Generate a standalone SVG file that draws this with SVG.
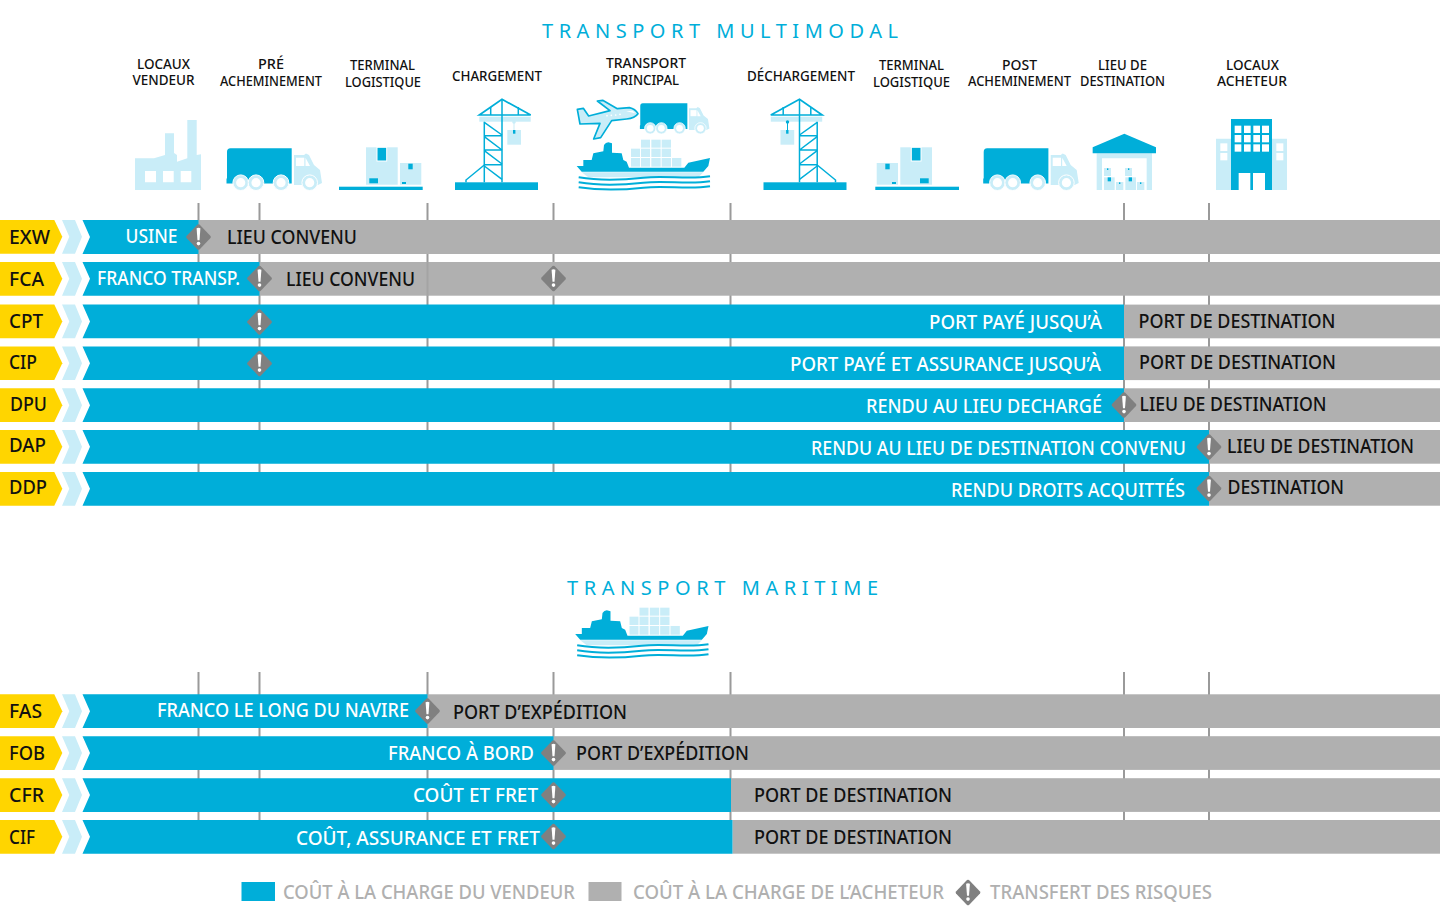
<svg xmlns="http://www.w3.org/2000/svg" xmlns:xlink="http://www.w3.org/1999/xlink" width="1440" height="906" viewBox="0 0 1440 906">
<style>
text{font-family:"Noto Sans","Open Sans","Liberation Sans",sans-serif}
.b{fill:#00aed9}.l{fill:#c9edf8}.y{fill:#ffd500}.g{fill:#b0b0b0}.wf{fill:#fff}
.title{font-size:20px;fill:#00aed9}
.hd{font-size:14px;fill:#111;font-weight:500}
.k{font-size:20px;fill:#111;font-weight:500}
.w{font-size:20px;fill:#fff;font-weight:500}
.code{font-size:20px;fill:#111;font-weight:500}
.lg{font-size:19.5px;fill:#b0b0b0;font-weight:500}
.tick{stroke:#9a9a9a;stroke-width:2;fill:none}
.st{stroke:#00aed9;fill:none}
</style>
<defs>
<g id="chev">
<polygon class="y" points="0,0 54.3,0 62.3,16.85 54.3,33.7 0,33.7"/>
<polygon class="l" points="62,0 75,0 82,16.85 75,33.7 62,33.7 69.3,16.85"/>
</g>
<g id="risk">
<path d="M-1,-12.4 Q0,-13.2 1,-12.4 L12,-0.9 Q12.8,0 12,0.9 L1,12.4 Q0,13.2 -1,12.4 L-12,0.9 Q-12.8,0 -12,-0.9 Z" fill="#808080"/>
<path d="M-1.9,-8.8 Q0,-9.8 1.9,-8.8 L1,3.2 L-1,3.2 Z" fill="#fff"/>
<circle cx="0" cy="6.6" r="1.8" fill="#fff"/>
</g>
<g id="truck">
<path class="b" d="M230.5,148.3 H291.7 V183.5 H226.5 V179 L227,178 V152 Q227,148.3 230.5,148.3 Z"/>
<path class="l" d="M294,155 H304 L306,153.5 L309,155 L314,165 L320,170 L322,183 L318,185 H294 Z"/>
<rect class="wf" x="296" y="157.7" width="8.3" height="8.3"/>
<polygon class="wf" points="305.5,157.7 310,166 305.5,166"/>
<g class="l" stroke="#fff" stroke-width="1">
<circle cx="240.7" cy="182.7" r="7.8"/><circle cx="256" cy="182.7" r="7.8"/><circle cx="281" cy="182.7" r="7.8"/><circle cx="309.7" cy="182.7" r="7.8"/>
</g>
<g class="wf">
<circle cx="240.7" cy="182.7" r="4.6"/><circle cx="256" cy="182.7" r="4.6"/><circle cx="281" cy="182.7" r="4.6"/><circle cx="309.7" cy="182.7" r="4.6"/>
</g>
</g>
<g id="boxes">
<rect class="b" x="339" y="186.7" width="83.7" height="3.3"/>
<rect class="l" x="366" y="147.3" width="31.7" height="37.4"/>
<rect class="b" x="377" y="147.3" width="9.7" height="13.7" stroke="#fff" stroke-width="1"/>
<rect class="b" x="369.3" y="178.3" width="8.7" height="5"/>
<rect class="l" x="400" y="163" width="21.3" height="21.7"/>
<rect class="b" x="408.3" y="163.7" width="4.4" height="5.6"/>
<rect class="b" x="402" y="182" width="4" height="2"/>
</g>
<g id="crane">
<rect class="b" x="455" y="182.3" width="83" height="7.7"/>
<rect class="l" x="479.3" y="116.7" width="51.4" height="5"/>
<g class="st" stroke-width="1.5">
<path d="M484.3,121.7 V182.3 M502,99.3 V182.3"/>
<path d="M479.3,115 L502,99.3 L530.7,115 Z" stroke-width="1.7"/>
<path d="M490.7,107 V115 M518.3,107 V115"/>
<path d="M484.3,122.3 L502,135 M484.3,135.7 H502 M484.3,136.7 L502,150 M484.3,150 H502 M484.3,150.7 L502,164 M484.3,164.7 H502 M484.3,166 L502,179.3"/>
<path d="M484.3,165 L466,180 V182.3"/>
</g>
<rect class="l" x="507.3" y="130" width="13.7" height="14.7"/>
<rect class="b" x="513" y="130" width="2.4" height="3.7"/>
</g>
<g id="ship" transform="translate(440,90) scale(.33333)">
<path class="b" d="M410,228 H430 V210 H455 L460,190 L490,184 L492,165 Q497,158 505,157 L516,160 V188 L545,190 L550,210 L560,215 L567,233 H733 L745,218 L810,204 L805,228 L790,245 H425 Z"/>
<polygon class="l" points="425,247 790,247 775,262 445,262"/>
<g class="l">
<rect x="603" y="149" width="27" height="24"/><rect x="634" y="149" width="28" height="24"/><rect x="665" y="149" width="28" height="24"/>
<rect x="573" y="176" width="27" height="25"/><rect x="603" y="176" width="27" height="25"/><rect x="634" y="176" width="28" height="25"/><rect x="665" y="176" width="28" height="25"/>
<rect x="573" y="204" width="27" height="26"/><rect x="603" y="204" width="27" height="26"/><rect x="634" y="204" width="28" height="26"/><rect x="665" y="204" width="28" height="26"/><rect x="696" y="204" width="28" height="26"/>
</g>
<g class="st" stroke-width="6">
<path d="M416,262 C470,271 540,271 610,263 C680,255 740,270 810,259"/>
<path d="M416,277 C470,286 540,286 610,278 C680,270 740,285 810,274"/>
<path d="M416,292 C470,300 540,301 610,293 C680,285 740,300 810,289"/>
</g>
</g>
</defs>

<g id="connectors">
<path class="tick" d="M198.5,203V505 M259.5,203V505 M427.5,203V505 M553.5,203V505 M730.5,203V505 M1124,203V505 M1209,203V505"/>
<path class="tick" d="M198.5,672V853 M259.5,672V853 M427.5,672V853 M553.5,672V853 M730.5,672V853 M1124,672V853 M1209,672V853"/>
</g>

<g id="titles">
<text class="title" x="542" y="38" textLength="356">TRANSPORT MULTIMODAL</text>
<text class="title" x="567" y="595" textLength="311">TRANSPORT MARITIME</text>
</g>

<g id="steps">
<text class="hd" x="137" y="69" textLength="53" lengthAdjust="spacingAndGlyphs">LOCAUX</text>
<text class="hd" x="132.5" y="85" textLength="62" lengthAdjust="spacingAndGlyphs">VENDEUR</text>
<text class="hd" x="258" y="68.5" textLength="26" lengthAdjust="spacingAndGlyphs">PRÉ</text>
<text class="hd" x="220" y="85.5" textLength="102" lengthAdjust="spacingAndGlyphs">ACHEMINEMENT</text>
<text class="hd" x="350" y="70" textLength="65" lengthAdjust="spacingAndGlyphs">TERMINAL</text>
<text class="hd" x="345" y="86.5" textLength="76" lengthAdjust="spacingAndGlyphs">LOGISTIQUE</text>
<text class="hd" x="452" y="81" textLength="90" lengthAdjust="spacingAndGlyphs">CHARGEMENT</text>
<text class="hd" x="606" y="68" textLength="80" lengthAdjust="spacingAndGlyphs">TRANSPORT</text>
<text class="hd" x="612" y="85" textLength="67" lengthAdjust="spacingAndGlyphs">PRINCIPAL</text>
<text class="hd" x="747" y="81" textLength="108" lengthAdjust="spacingAndGlyphs">DÉCHARGEMENT</text>
<text class="hd" x="879" y="70" textLength="65" lengthAdjust="spacingAndGlyphs">TERMINAL</text>
<text class="hd" x="873" y="86.5" textLength="77" lengthAdjust="spacingAndGlyphs">LOGISTIQUE</text>
<text class="hd" x="1002" y="70" textLength="35" lengthAdjust="spacingAndGlyphs">POST</text>
<text class="hd" x="968" y="86" textLength="103" lengthAdjust="spacingAndGlyphs">ACHEMINEMENT</text>
<text class="hd" x="1098" y="70" textLength="49" lengthAdjust="spacingAndGlyphs">LIEU DE</text>
<text class="hd" x="1080" y="86" textLength="85" lengthAdjust="spacingAndGlyphs">DESTINATION</text>
<text class="hd" x="1226" y="70" textLength="53" lengthAdjust="spacingAndGlyphs">LOCAUX</text>
<text class="hd" x="1217" y="86" textLength="70" lengthAdjust="spacingAndGlyphs">ACHETEUR</text>
</g>

<g id="icons">
<path id="factory" class="l" d="M135,190 V158.3 H154 L165,155 V133.3 H174 V153 L177,155 V161.7 L187.3,158.3 V120 H196.7 V155 L201,154.3 V190 Z M145,171 V182.3 H156 V171 Z M163,171 V182.3 H173.7 V171 Z M180.7,171 V182.3 H191.3 V171 Z" fill-rule="evenodd"/>
<use href="#truck"/>
<use href="#boxes"/>
<use href="#crane"/>
<circle cx="514" cy="122" r="1.8" class="l"/><path d="M514,122 V130" stroke="#c9edf8" stroke-width="1"/>
<g id="plane" transform="translate(440,90) scale(.33333)">
<path class="l" d="M412,58 L430,55 L446,78 L510,62 L472,33 L488,31 L532,56 L568,53 Q586,57 594,71 Q585,84 560,87 L515,92 L482,143 L461,147 L480,100 L420,102 Z" stroke="#00aed9" stroke-width="5" stroke-linejoin="round"/>
<g class="wf"><circle cx="501" cy="77" r="2.6"/><circle cx="514" cy="76" r="2.6"/><circle cx="527" cy="75" r="2.6"/><circle cx="540" cy="73" r="2.6"/></g>
<path d="M558,64 L578,62 L586,70 Z" fill="#fff"/>
</g>
<use href="#truck" transform="translate(475,-4.66) scale(.728)"/>
<use href="#ship"/>
<use href="#crane" transform="matrix(-1,0,0,1,1301.5,0)"/>
<circle cx="787.5" cy="122" r="1.7" class="b"/><path d="M787.5,122 V130" stroke="#00aed9" stroke-width="1"/>
<use href="#boxes" transform="matrix(-1,0,0,1,1298,0)"/>
<use href="#truck" transform="translate(756.7,0)"/>
<g id="warehouse" transform="translate(860,90) scale(.33333)">
<path class="l" d="M710,190 H876 V300 H860 V205 H726 V300 H710 Z"/>
<path class="b" d="M698,172 L793,131 L888,172 V190 H698 Z"/>
<g class="l">
<rect x="732" y="262" width="32" height="38"/><rect x="796" y="262" width="32" height="38"/><rect x="768" y="276" width="22" height="24"/><rect x="831" y="276" width="22" height="24"/><rect x="732" y="234" width="21" height="24"/><rect x="795" y="234" width="21" height="24"/>
</g>
<g class="b">
<rect x="743" y="262" width="10" height="12"/><rect x="806" y="262" width="10" height="12"/><rect x="777" y="277" width="4" height="5"/><rect x="840" y="277" width="4" height="5"/><rect x="741" y="235" width="4" height="5"/><rect x="804" y="235" width="4" height="5"/>
</g>
</g>
<g id="building" transform="translate(860,90) scale(.33333)">
<path class="l" d="M1068,146 H1113 V300 H1068 Z M1236,146 H1281 V300 H1236 Z"/>
<rect class="b" x="1113" y="87" width="123" height="213"/>
<g class="wf">
<rect x="1124" y="107" width="20" height="22"/><rect x="1152" y="107" width="20" height="22"/><rect x="1180" y="107" width="20" height="22"/><rect x="1206" y="107" width="21" height="22"/>
<rect x="1124" y="135" width="20" height="22"/><rect x="1152" y="135" width="20" height="22"/><rect x="1180" y="135" width="20" height="22"/><rect x="1206" y="135" width="21" height="22"/>
<rect x="1124" y="163" width="20" height="22"/><rect x="1152" y="163" width="20" height="22"/><rect x="1180" y="163" width="20" height="22"/><rect x="1206" y="163" width="21" height="22"/>
<rect x="1136" y="249" width="35" height="51"/><rect x="1179" y="249" width="36" height="51"/>
<rect x="1081" y="160" width="21" height="23"/><rect x="1081" y="189" width="21" height="22"/><rect x="1249" y="160" width="21" height="23"/><rect x="1249" y="189" width="21" height="22"/>
</g>
</g>
<use href="#ship" transform="translate(-1.5,468)"/>
</g>

<g id="row-EXW">
<use href="#chev" y="220"/>
<rect class="g" x="198" y="220" width="1242" height="34"/>
<polygon class="b" points="82.5,220 198.5,220 198.5,254 82.5,254 90,237"/>
<text class="code" x="9" y="244" textLength="41" lengthAdjust="spacingAndGlyphs">EXW</text>
<text class="w" x="125.5" y="243" textLength="52" lengthAdjust="spacingAndGlyphs">USINE</text>
<text class="k" x="227" y="244" textLength="130" lengthAdjust="spacingAndGlyphs">LIEU CONVENU</text>
<use href="#risk" x="198.5" y="237"/>
</g>
<g id="row-FCA">
<use href="#chev" y="262"/>
<rect class="g" x="259" y="262" width="1181" height="33.7"/>
<path d="M427.5,262V295.7" stroke="#a4a4a4" stroke-width="2"/>
<polygon class="b" points="82.5,262 259.5,262 259.5,295.7 82.5,295.7 90,278.85"/>
<text class="code" x="9" y="285.5" textLength="35" lengthAdjust="spacingAndGlyphs">FCA</text>
<text class="w" x="97" y="285" textLength="143" lengthAdjust="spacingAndGlyphs">FRANCO TRANSP.</text>
<text class="k" x="286" y="286" textLength="129" lengthAdjust="spacingAndGlyphs">LIEU CONVENU</text>
<use href="#risk" x="259.5" y="278.5"/><use href="#risk" x="553.5" y="278.5"/>
</g>
<g id="row-CPT">
<use href="#chev" y="304.6"/>
<rect class="g" x="1124" y="304.6" width="316" height="33.7"/>
<polygon class="b" points="82.5,304.6 1124,304.6 1124,338.3 82.5,338.3 90,321.45"/>
<text class="code" x="9" y="328" textLength="34" lengthAdjust="spacingAndGlyphs">CPT</text>
<text class="w" x="929" y="329" textLength="173" lengthAdjust="spacingAndGlyphs">PORT PAYÉ JUSQU’À</text>
<text class="k" x="1138.5" y="328" textLength="197" lengthAdjust="spacingAndGlyphs">PORT DE DESTINATION</text>
<use href="#risk" x="259.5" y="322"/>
</g>
<g id="row-CIP">
<use href="#chev" y="346.4"/>
<rect class="g" x="1124" y="346.4" width="316" height="33.7"/>
<polygon class="b" points="82.5,346.4 1124,346.4 1124,380.1 82.5,380.1 90,363.25"/>
<text class="code" x="9" y="369" textLength="28" lengthAdjust="spacingAndGlyphs">CIP</text>
<text class="w" x="790" y="371" textLength="311" lengthAdjust="spacingAndGlyphs">PORT PAYÉ ET ASSURANCE JUSQU’À</text>
<text class="k" x="1139" y="369" textLength="197" lengthAdjust="spacingAndGlyphs">PORT DE DESTINATION</text>
<use href="#risk" x="259.5" y="363.5"/>
</g>
<g id="row-DPU">
<use href="#chev" y="388.3"/>
<rect class="g" x="1124" y="388.3" width="316" height="33.7"/>
<polygon class="b" points="82.5,388.3 1124,388.3 1124,422 82.5,422 90,405.15"/>
<text class="code" x="10" y="411" textLength="37" lengthAdjust="spacingAndGlyphs">DPU</text>
<text class="w" x="866" y="413" textLength="236" lengthAdjust="spacingAndGlyphs">RENDU AU LIEU DECHARGÉ</text>
<text class="k" x="1139.5" y="411" textLength="187" lengthAdjust="spacingAndGlyphs">LIEU DE DESTINATION</text>
<use href="#risk" x="1124" y="405"/>
</g>
<g id="row-DAP">
<use href="#chev" y="430"/>
<rect class="g" x="1209" y="430" width="231" height="33.7"/>
<polygon class="b" points="82.5,430 1209,430 1209,463.7 82.5,463.7 90,446.85"/>
<text class="code" x="9" y="452" textLength="37" lengthAdjust="spacingAndGlyphs">DAP</text>
<text class="w" x="811" y="455" textLength="375" lengthAdjust="spacingAndGlyphs">RENDU AU LIEU DE DESTINATION CONVENU</text>
<text class="k" x="1227" y="453" textLength="187" lengthAdjust="spacingAndGlyphs">LIEU DE DESTINATION</text>
<use href="#risk" x="1209" y="447"/>
</g>
<g id="row-DDP">
<use href="#chev" y="472"/>
<rect class="g" x="1209" y="472" width="231" height="33.7"/>
<polygon class="b" points="82.5,472 1209,472 1209,505.7 82.5,505.7 90,488.85"/>
<text class="code" x="9" y="494" textLength="38" lengthAdjust="spacingAndGlyphs">DDP</text>
<text class="w" x="951" y="497" textLength="234" lengthAdjust="spacingAndGlyphs">RENDU DROITS ACQUITTÉS</text>
<text class="k" x="1227.5" y="494" textLength="116.5" lengthAdjust="spacingAndGlyphs">DESTINATION</text>
<use href="#risk" x="1209" y="488.5"/>
</g>
<g id="row-FAS">
<use href="#chev" y="694.3"/>
<rect class="g" x="427" y="694.3" width="1013" height="33.7"/>
<polygon class="b" points="82.5,694.3 427.5,694.3 427.5,728 82.5,728 90,711.15"/>
<text class="code" x="9" y="718" textLength="33" lengthAdjust="spacingAndGlyphs">FAS</text>
<text class="w" x="157" y="717" textLength="252" lengthAdjust="spacingAndGlyphs">FRANCO LE LONG DU NAVIRE</text>
<text class="k" x="453" y="719" textLength="174" lengthAdjust="spacingAndGlyphs">PORT D’EXPÉDITION</text>
<use href="#risk" x="427.5" y="711"/>
</g>
<g id="row-FOB">
<use href="#chev" y="736.2"/>
<rect class="g" x="553" y="736.2" width="887" height="33.7"/>
<polygon class="b" points="82.5,736.2 553.5,736.2 553.5,769.9 82.5,769.9 90,753.05"/>
<text class="code" x="9" y="760" textLength="36" lengthAdjust="spacingAndGlyphs">FOB</text>
<text class="w" x="388" y="760" textLength="146" lengthAdjust="spacingAndGlyphs">FRANCO À BORD</text>
<text class="k" x="576" y="760" textLength="173" lengthAdjust="spacingAndGlyphs">PORT D’EXPÉDITION</text>
<use href="#risk" x="553.5" y="753"/>
</g>
<g id="row-CFR">
<use href="#chev" y="778.2"/>
<rect class="g" x="731" y="778.2" width="709" height="33.7"/>
<polygon class="b" points="82.5,778.2 731,778.2 731,811.9 82.5,811.9 90,795.05"/>
<text class="code" x="9" y="802" textLength="35" lengthAdjust="spacingAndGlyphs">CFR</text>
<text class="w" x="413" y="802" textLength="125" lengthAdjust="spacingAndGlyphs">COÛT ET FRET</text>
<text class="k" x="754" y="802" textLength="198" lengthAdjust="spacingAndGlyphs">PORT DE DESTINATION</text>
<use href="#risk" x="553.5" y="795"/>
</g>
<g id="row-CIF">
<use href="#chev" y="820"/>
<rect class="g" x="732.5" y="820" width="707.5" height="33.7"/>
<polygon class="b" points="82.5,820 732.5,820 732.5,853.7 82.5,853.7 90,836.85"/>
<text class="code" x="9" y="843.5" textLength="26" lengthAdjust="spacingAndGlyphs">CIF</text>
<text class="w" x="296" y="845" textLength="244" lengthAdjust="spacingAndGlyphs">COÛT, ASSURANCE ET FRET</text>
<text class="k" x="754" y="844" textLength="198" lengthAdjust="spacingAndGlyphs">PORT DE DESTINATION</text>
<use href="#risk" x="553.5" y="836.5"/>
</g>

<g id="legend">
<rect class="b" x="241.5" y="882" width="33.5" height="19"/>
<text class="lg" x="283" y="899" textLength="292" lengthAdjust="spacingAndGlyphs">COÛT À LA CHARGE DU VENDEUR</text>
<rect class="g" x="588.5" y="882" width="33" height="19"/>
<text class="lg" x="633" y="899" textLength="311" lengthAdjust="spacingAndGlyphs">COÛT À LA CHARGE DE L’ACHETEUR</text>
<use href="#risk" x="968" y="892.5"/>
<text class="lg" x="990" y="899" textLength="222" lengthAdjust="spacingAndGlyphs">TRANSFERT DES RISQUES</text>
</g>
</svg>
